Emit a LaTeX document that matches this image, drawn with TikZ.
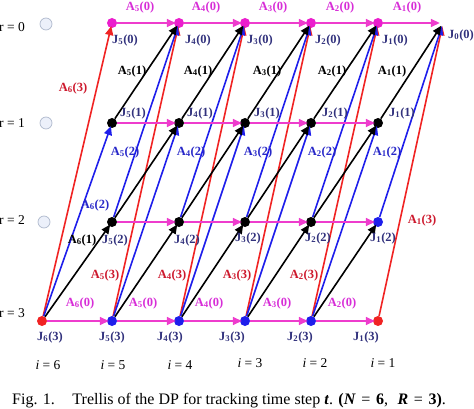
\documentclass[tikz,border=0pt]{standalone}
\usepackage{fontspec}
\setmainfont{Liberation Serif}
\usetikzlibrary{arrows.meta}
\definecolor{ecol0}{RGB}{238,60,205}
\definecolor{ecol1}{RGB}{0,0,0}
\definecolor{ecol2}{RGB}{30,30,235}
\definecolor{ecol3}{RGB}{240,35,35}
\definecolor{lcol0}{RGB}{215,45,215}
\definecolor{lcol1}{RGB}{0,0,0}
\definecolor{lcol2}{RGB}{40,40,200}
\definecolor{lcol3}{RGB}{205,25,45}
\definecolor{jcol}{RGB}{50,50,125}
\definecolor{dotpink}{RGB}{235,30,205}
\definecolor{ghostline}{RGB}{175,185,205}
\definecolor{ghostfill}{RGB}{236,240,250}
\newcommand\Alab[2]{A\textsubscript{#1}(#2)}
\newcommand\Jlab[2]{J\textsubscript{#1}(#2)}
\newcommand\capeq{\hspace{0.35em}=\hspace{0.35em}}
\tikzset{
  dot/.style={circle, inner sep=0pt, minimum size=10pt},
  ghost/.style={circle, inner sep=0pt, minimum size=12pt, draw=ghostline, fill=ghostfill, line width=0.7pt},
  e/.style={draw=ecol#1, line width=1.6pt, -{Triangle[length=9pt,width=8pt]}, shorten >=-2pt},
  lab/.style={text=lcol#1, font=\fontsize{12.5}{14}\selectfont\bfseries, inner sep=0pt},
  jlab/.style={text=jcol, font=\fontsize{12.5}{14}\selectfont\bfseries, inner sep=0pt},
  axlab/.style={font=\fontsize{13.5}{15}\selectfont, inner sep=0pt},
}
\begin{document}
\begin{tikzpicture}[x=1pt,y=-1pt]
\useasboundingbox (0,0) rectangle (474,409);
% ghost circles
\node[ghost] (g0) at (46,24) {};
\node[ghost] (g1) at (46,123) {};
\node[ghost] (g2) at (44,222) {};
% nodes
\foreach \c/\x in {1/112,2/179,3/245,4/311}{
  \node[dot,fill=dotpink] (n\c0) at (\x,23) {};
  \node[dot,fill=black] (n\c1) at (\x,123) {};
  \node[dot,fill=black] (n\c2) at (\x,222) {};
  \node[dot,fill=ecol2] (n\c3) at (\x,321) {};
}
\node[dot,fill=dotpink] (n50) at (378,23) {};
\node[dot,fill=black] (n51) at (378,123) {};
\node[dot,fill=ecol2] (n52) at (378,222) {};
\node[dot,fill=ecol3] (n53) at (378,321) {};
\node[dot] (n60) at (443,23) {};
\node[dot,fill=ecol3] (n03) at (42,321) {};
% edges
\foreach \k in {3,2,1,0}{
  \foreach \c in {1,...,4}{
    \foreach \r in {\k,...,3}{
      \pgfmathtruncatemacro\rr{\r-\k}
      \pgfmathtruncatemacro\cc{\c+1}
      \draw[e=\k] (n\c\r) -- (n\cc\rr);
    }
  }
  \pgfmathtruncatemacro\rr{3-\k}
  \draw[e=\k] (n03) -- (n1\rr);
  \draw[e=\k] (n5\k) -- (n60);
}
% horizontal labels
\node[lab=0] (a50) at (140,7) {\Alab{5}{0}};
\node[lab=0] (a40) at (206,7) {\Alab{4}{0}};
\node[lab=0] (a30) at (273,7) {\Alab{3}{0}};
\node[lab=0] (a20) at (340,7) {\Alab{2}{0}};
\node[lab=0] (a10) at (407,7) {\Alab{1}{0}};
\node[lab=0] (b60) at (80,303) {\Alab{6}{0}};
\node[lab=0] (b50) at (143,303) {\Alab{5}{0}};
\node[lab=0] (b40) at (209,303) {\Alab{4}{0}};
\node[lab=0] (b30) at (277,303) {\Alab{3}{0}};
\node[lab=0] (b20) at (342,303) {\Alab{2}{0}};
% black labels
\node[lab=1] (a51) at (132,71) {\Alab{5}{1}};
\node[lab=1] (a41) at (198,71) {\Alab{4}{1}};
\node[lab=1] (a31) at (267,71) {\Alab{3}{1}};
\node[lab=1] (a21) at (332,71) {\Alab{2}{1}};
\node[lab=1] (a11) at (392,71) {\Alab{1}{1}};
\node[lab=1] (a61) at (82,240) {\Alab{6}{1}};
% blue labels
\node[lab=2] (a52) at (125,152) {\Alab{5}{2}};
\node[lab=2] (a42) at (191,152) {\Alab{4}{2}};
\node[lab=2] (a32) at (258,152) {\Alab{3}{2}};
\node[lab=2] (a22) at (322,152) {\Alab{2}{2}};
\node[lab=2] (a12) at (387,152) {\Alab{1}{2}};
\node[lab=2] (a62) at (95,205) {\Alab{6}{2}};
% red labels
\node[lab=3] (a63) at (73,88) {\Alab{6}{3}};
\node[lab=3] (a53) at (105,275) {\Alab{5}{3}};
\node[lab=3] (a43) at (172,275) {\Alab{4}{3}};
\node[lab=3] (a33) at (237,275) {\Alab{3}{3}};
\node[lab=3] (a23) at (304,275) {\Alab{2}{3}};
\node[lab=3] (a13) at (422,220) {\Alab{1}{3}};
% node labels
\node[jlab] (j50) at (125,40) {\Jlab{5}{0}};
\node[jlab] (j40) at (198,40) {\Jlab{4}{0}};
\node[jlab] (j30) at (260,40) {\Jlab{3}{0}};
\node[jlab] (j20) at (328,40) {\Jlab{2}{0}};
\node[jlab] (j10) at (395,40) {\Jlab{1}{0}};
\node[jlab] (j00) at (461,35) {\Jlab{0}{0}};
\node[jlab] (j51) at (133,113) {\Jlab{5}{1}};
\node[jlab] (j41) at (200,113) {\Jlab{4}{1}};
\node[jlab] (j31) at (267,113) {\Jlab{3}{1}};
\node[jlab] (j21) at (335,113) {\Jlab{2}{1}};
\node[jlab] (j11) at (402,113) {\Jlab{1}{1}};
\node[jlab] (j52) at (115,240) {\Jlab{5}{2}};
\node[jlab] (j42) at (187,240) {\Jlab{4}{2}};
\node[jlab] (j32) at (248,238) {\Jlab{3}{2}};
\node[jlab] (j22) at (318,238) {\Jlab{2}{2}};
\node[jlab] (j12) at (383,238) {\Jlab{1}{2}};
\node[jlab] (j63) at (50,337) {\Jlab{6}{3}};
\node[jlab] (j53) at (112,337) {\Jlab{5}{3}};
\node[jlab] (j43) at (170,337) {\Jlab{4}{3}};
\node[jlab] (j33) at (232,337) {\Jlab{3}{3}};
\node[jlab] (j23) at (300,337) {\Jlab{2}{3}};
\node[jlab] (j13) at (366,337) {\Jlab{1}{3}};
% r labels
\node[axlab,anchor=east] (r0) at (25,27) {r = 0};
\node[axlab,anchor=east] (r1) at (25,123) {r = 1};
\node[axlab,anchor=east] (r2) at (25,220) {r = 2};
\node[axlab,anchor=east] (r3) at (25,313) {r = 3};
% i labels
\node[axlab] (i6) at (48,365) {\textit{i} = 6};
\node[axlab] (i5) at (113,365) {\textit{i} = 5};
\node[axlab] (i4) at (180,365) {\textit{i} = 4};
\node[axlab] (i3) at (250,363) {\textit{i} = 3};
\node[axlab] (i2) at (315,363) {\textit{i} = 2};
\node[axlab] (i1) at (383,363) {\textit{i} = 1};
% caption
\node[inner sep=0pt, anchor=west, font=\fontsize{16}{18}\selectfont] (cap) at (12,401)
  {Fig. 1.\hspace{1.1em}Trellis of the DP for tracking time step \textbf{\textit{t}}. \textbf{(}\textbf{\textit{N}}\capeq\textbf{6},\hspace{0.6em}\textbf{\textit{R}}\capeq\textbf{3}\textbf{)}.};
\end{tikzpicture}
\end{document}
